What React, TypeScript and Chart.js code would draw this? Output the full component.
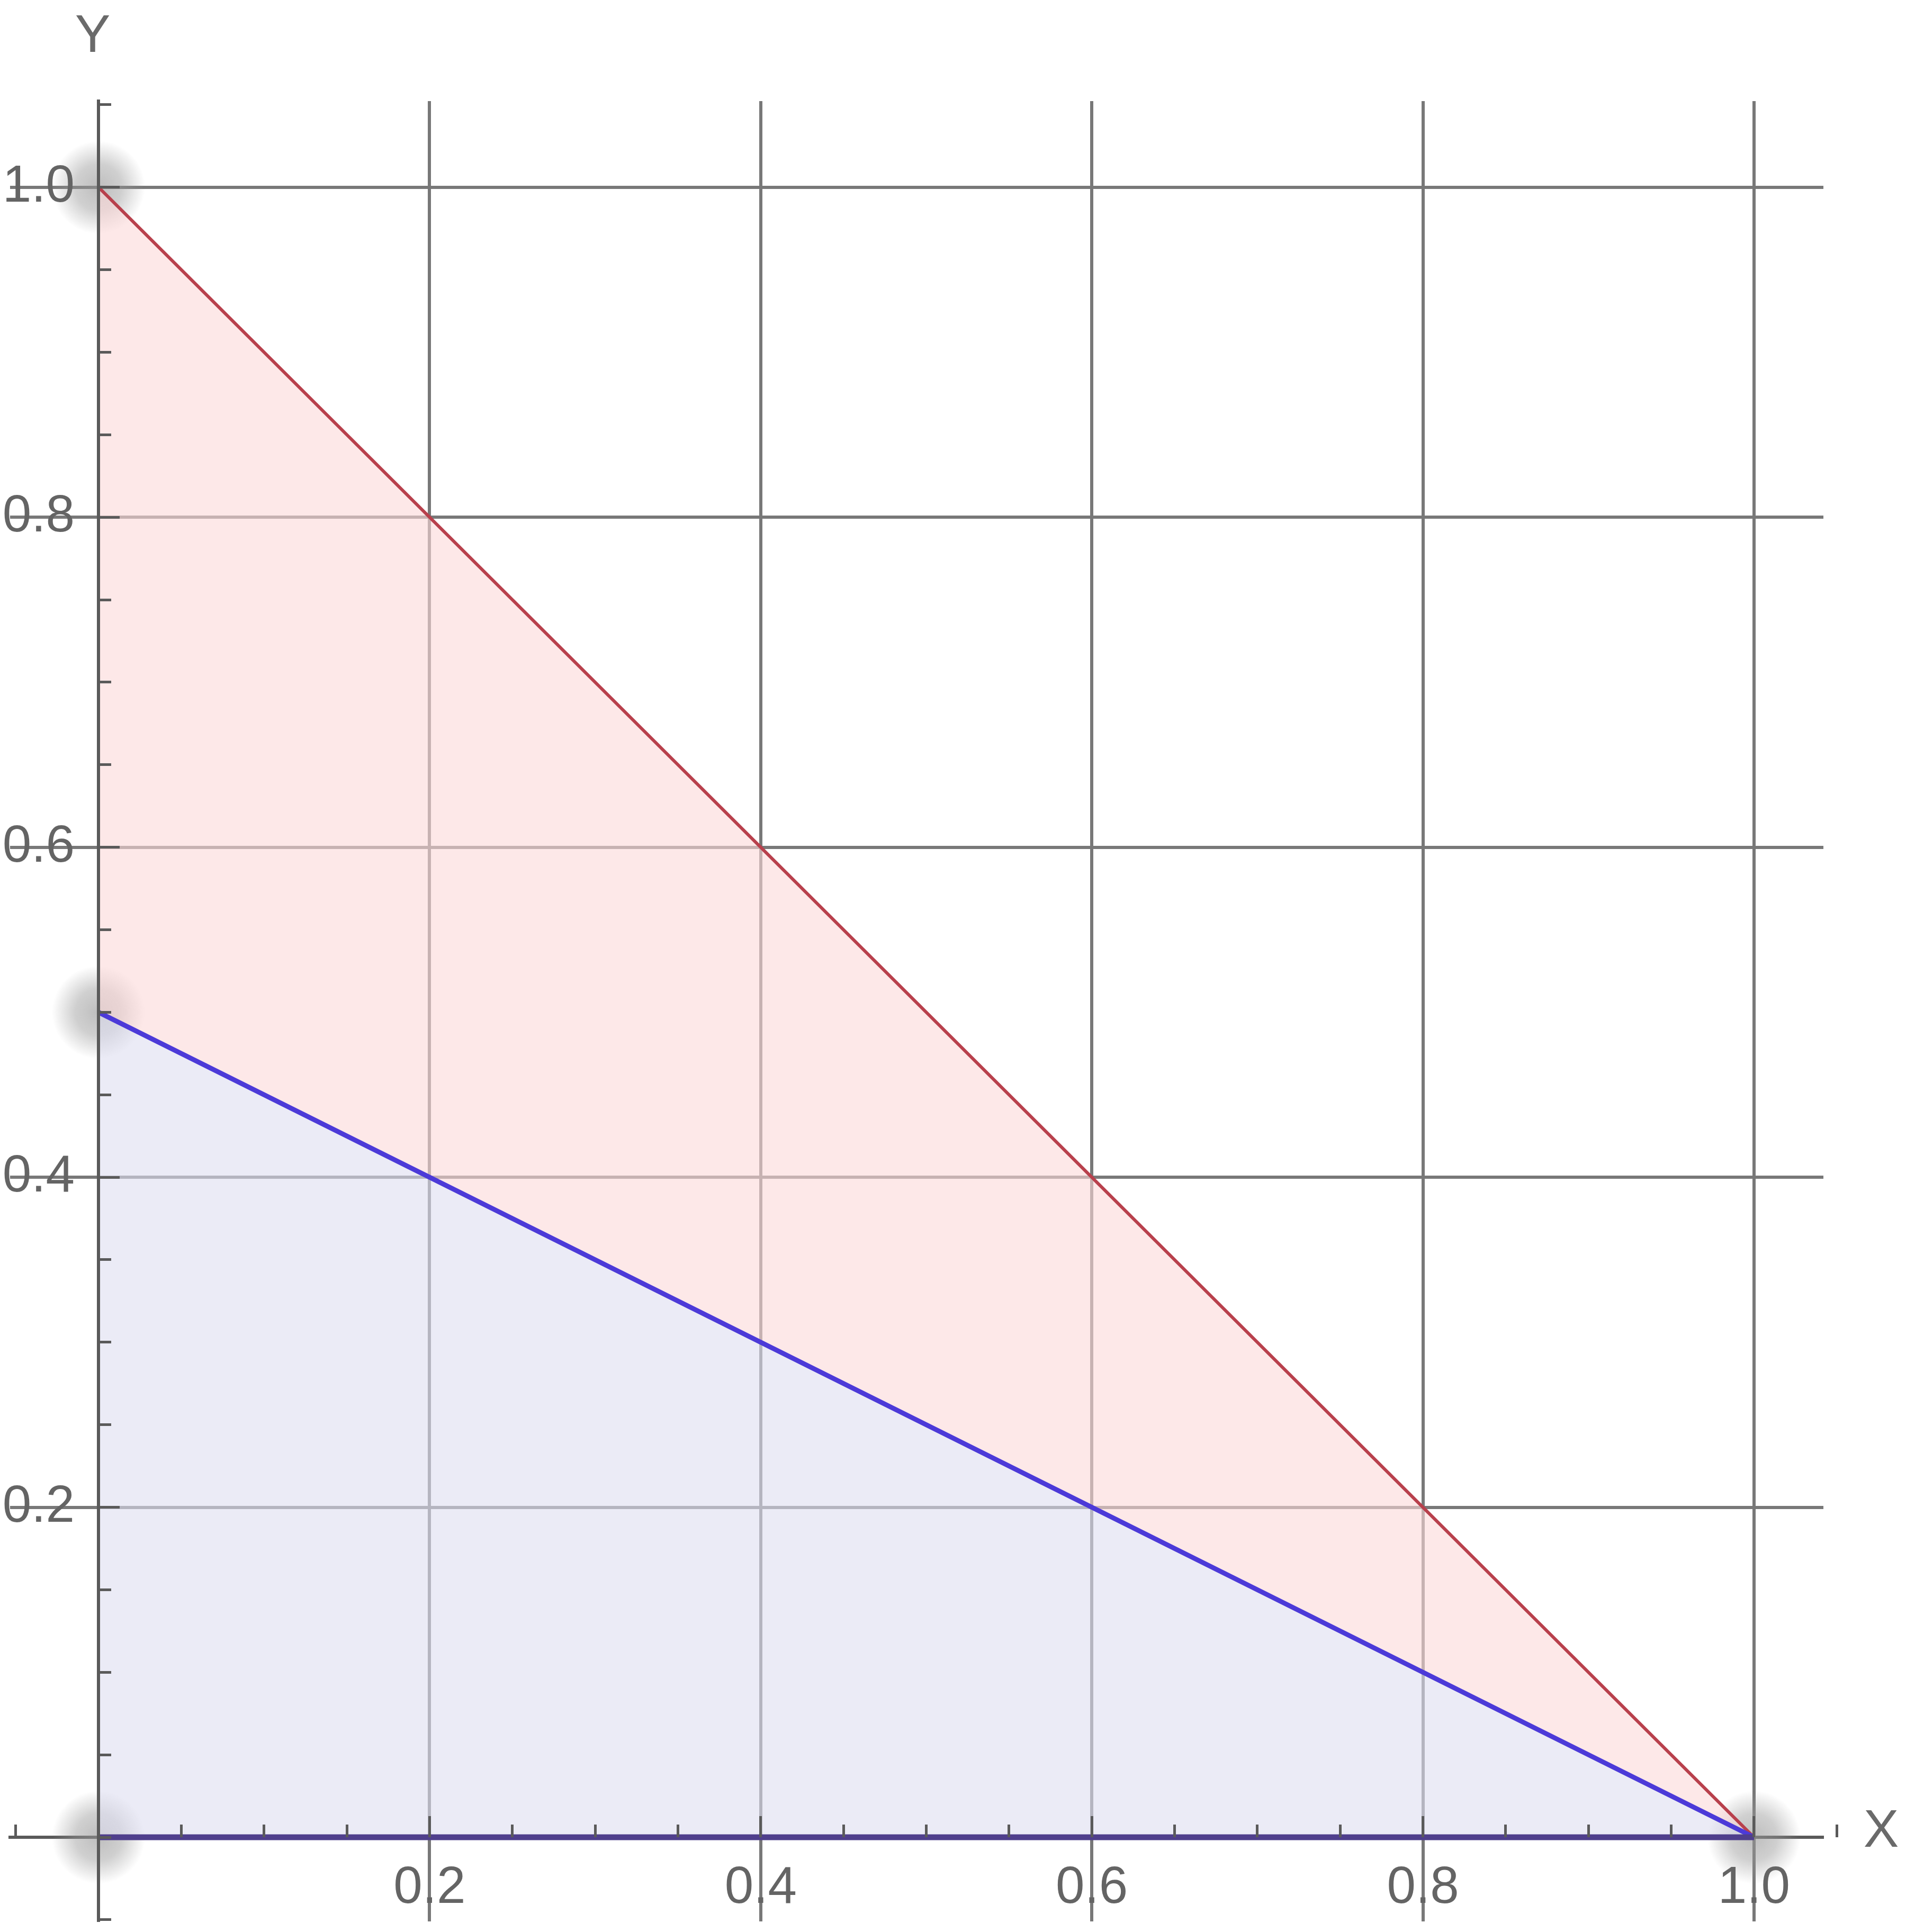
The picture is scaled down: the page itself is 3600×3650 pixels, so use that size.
import React, { useEffect, useRef } from "react";
import { Chart, registerables } from "chart.js";

Chart.register(...registerables);

// ---- data ----
const X_ENDS = [0, 1];
const RED_Y = [1.0, 0.0];
const BLUE_Y = [0.5, 0.0];
const BASE_Y = [0.0, 0.0];
const MARK_X = [0, 0, 0, 1];
const MARK_Y = [1.0, 0.5, 0.0, 0.0];
const GRID_TICKS = [0.2, 0.4, 0.6, 0.8, 1.0];
const LABEL_TICKS = [0.2, 0.4, 0.6, 0.8, 1.0];
const MINOR_TICKS = [
  -0.05, 0, 0.05, 0.1, 0.15, 0.2, 0.25, 0.3, 0.35, 0.4, 0.45, 0.5, 0.55,
  0.6, 0.65, 0.7, 0.75, 0.8, 0.85, 0.9, 0.95, 1.0, 1.05,
];
const X_AXIS_TITLE = "X";
const Y_AXIS_TITLE = "Y";

// ---- plot range / styling ----
const X_MIN = -0.0534;
const X_MAX = 1.0419;
const Y_MIN = -0.051;
const Y_MAX = 1.0522;
const Y_LABEL_AT = -0.0144; // x value where the y tick labels end

const FONT = '"Liberation Sans", Arial, sans-serif';
const GRID_COLOR = "#787878";
const AXIS_COLOR = "#5a5a5a";
const LABEL_COLOR = "#646464";

const setTicks = (vals: number[]) => (s: any) => {
  s.ticks = vals.map((v) => ({ value: v }));
};
const zeroPad = (s: any) => {
  s.paddingTop = 0;
  s.paddingBottom = 0;
  s.paddingLeft = 0;
  s.paddingRight = 0;
};

const makeDot = () => {
  const size = 176;
  const r = size / 2;
  const c = document.createElement("canvas");
  c.width = size;
  c.height = size;
  const g = c.getContext("2d")!;
  const grad = g.createRadialGradient(r, r, 0, r, r, r);
  grad.addColorStop(0, "rgba(150,150,150,0.62)");
  grad.addColorStop(0.5, "rgba(150,150,150,0.45)");
  grad.addColorStop(1, "rgba(150,150,150,0)");
  g.fillStyle = grad;
  g.fillRect(0, 0, size, size);
  return c;
};

const axisLetters = {
  id: "axisLetters",
  afterDraw(chart: any) {
    const { ctx, chartArea } = chart;
    const xs = chart.scales.x;
    const ys = chart.scales.y;
    ctx.save();
    ctx.font = `100px ${FONT}`;
    ctx.fillStyle = "#6a6a6a";
    ctx.textAlign = "center";
    ctx.textBaseline = "middle";
    ctx.fillText(Y_AXIS_TITLE, xs.getPixelForValue(0) - 11, chartArea.top - 121);
    ctx.fillText(X_AXIS_TITLE, chartArea.right + 109, ys.getPixelForValue(0) - 10);
    ctx.restore();
  },
};

export default function App() {
  const ref = useRef<HTMLCanvasElement>(null);

  useEffect(() => {
    const dot = makeDot();
    const pts = (xs: number[], ys: number[]) => xs.map((x, i) => ({ x, y: ys[i] }));

    const range = (isX: boolean) => ({
      type: "linear",
      min: isX ? X_MIN : Y_MIN,
      max: isX ? X_MAX : Y_MAX,
    });

    const gridScale = (isX: boolean) => ({
      ...range(isX),
      position: isX ? "bottom" : "left",
      afterBuildTicks: setTicks(GRID_TICKS),
      ticks: { display: false },
      border: { display: false },
      grid: { color: GRID_COLOR, lineWidth: 6, drawTicks: false },
    });

    // axis line only
    const lineScale = (isX: boolean) => ({
      ...range(isX),
      position: isX ? { y: 0 } : { x: 0 },
      afterBuildTicks: setTicks(GRID_TICKS),
      afterFit: zeroPad,
      ticks: { display: false },
      border: { display: true, color: AXIS_COLOR, width: 6, z: isX ? 0 : 1 },
      grid: { drawOnChartArea: false, drawTicks: false, color: AXIS_COLOR, z: -1 },
    });

    // tick marks (pointing into the plot)
    const tickScale = (isX: boolean, vals: number[], len: number) => ({
      ...range(isX),
      position: isX ? { y: 0 } : { x: 0 },
      afterBuildTicks: setTicks(vals),
      afterFit: zeroPad,
      ticks: { display: false },
      border: { display: false },
      grid: {
        drawOnChartArea: false,
        drawTicks: true,
        tickLength: -len,
        tickColor: AXIS_COLOR,
        tickWidth: 5,
        color: AXIS_COLOR,
        z: 1,
      },
    });

    // tick labels
    const labelScale = (isX: boolean) => ({
      ...range(isX),
      position: isX ? { y: 0 } : { x: Y_LABEL_AT },
      afterBuildTicks: setTicks(LABEL_TICKS),
      afterFit: zeroPad,
      ticks: {
        display: true,
        autoSkip: false,
        maxRotation: 0,
        minRotation: 0,
        padding: 38,
        color: LABEL_COLOR,
        font: { size: 98, family: FONT },
        callback: (v: any) => Number(v).toFixed(1),
        z: 1,
      },
      border: { display: false },
      grid: { drawOnChartArea: false, drawTicks: false, z: 1 },
    });

    const chart = new Chart(ref.current!, {
      type: "line",
      data: {
        datasets: [
          {
            label: "points",
            data: pts(MARK_X, MARK_Y),
            showLine: false,
            pointStyle: dot as any,
            pointRadius: 88,
            order: 10,
          },
          {
            label: "red",
            data: pts(X_ENDS, RED_Y),
            borderColor: "#b8404c",
            borderWidth: 6,
            pointRadius: 0,
            fill: 2,
            backgroundColor: "rgba(252,216,216,0.6)",
            order: 3,
          },
          {
            label: "blue",
            data: pts(X_ENDS, BLUE_Y),
            borderColor: "#4c3ad8",
            borderWidth: 9,
            pointRadius: 0,
            fill: "origin",
            backgroundColor: "rgba(222,222,240,0.6)",
            order: 2,
          },
          {
            label: "base",
            data: pts(X_ENDS, BASE_Y),
            borderColor: "#4f3f8c",
            borderWidth: 11,
            pointRadius: 0,
            fill: false,
            order: 1,
          },
        ],
      } as any,
      options: {
        animation: false,
        responsive: false,
        devicePixelRatio: 1,
        layout: {
          autoPadding: false,
          padding: { left: 19, right: 156, top: 191, bottom: 20 },
        },
        elements: { line: { tension: 0 } },
        plugins: { legend: { display: false }, tooltip: { enabled: false } },
        scales: {
          x: gridScale(true),
          y: gridScale(false),
          xline: lineScale(true),
          yline: lineScale(false),
          xminor: tickScale(true, MINOR_TICKS, 24),
          yminor: tickScale(false, MINOR_TICKS, 24),
          xmajor: tickScale(true, LABEL_TICKS, 40),
          ymajor: tickScale(false, LABEL_TICKS, 40),
          xlabels: labelScale(true),
          ylabels: labelScale(false),
        } as any,
      },
      plugins: [axisLetters],
    } as any);

    return () => chart.destroy();
  }, []);

  return (
    <div
      style={{
        position: "absolute",
        left: 0,
        top: 0,
        width: 3600,
        height: 3650,
        background: "#ffffff",
      }}
    >
      <canvas
        ref={ref}
        width={3600}
        height={3650}
        style={{ display: "block", width: 3600, height: 3650 }}
      />
    </div>
  );
}
